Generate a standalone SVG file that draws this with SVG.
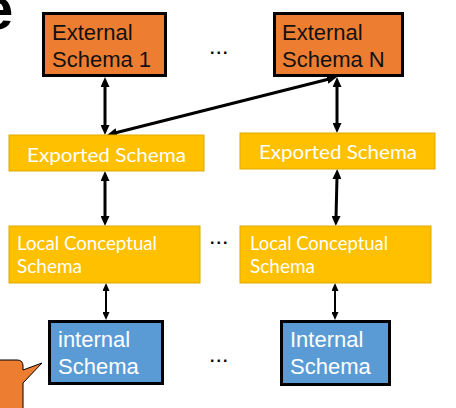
<svg xmlns="http://www.w3.org/2000/svg" width="456" height="408" viewBox="0 0 456 408">
  <style>
    .ext { fill: #ED7D31; stroke: #000; stroke-width: 3; }
    .int { fill: #5B9BD5; stroke: #000; stroke-width: 3; }
    .yel { fill: #FFC000; stroke: #E0A900; stroke-width: 1; }
    .t22 { font-family: "Liberation Sans", Arial, sans-serif; font-size: 22px; }
    .dark { fill: #111; }
    .white { fill: #fff; }
    .cal { font-family: Lato, "Open Sans", sans-serif; font-size: 18.5px; fill: #fff; }
    .dots { font-family: "Liberation Sans", Arial, sans-serif; font-size: 16px; font-weight: bold; fill: #000; letter-spacing: 2px; }
    .conn { stroke: #000; fill: none; }
  </style>
  <defs>
    <marker id="ah" markerUnits="userSpaceOnUse" markerWidth="10" markerHeight="9" refX="2" refY="4.5" orient="auto-start-reverse" viewBox="0 0 10 9">
      <path d="M0,0 L10,4.5 L0,9 z" fill="#000"/>
    </marker>
    <marker id="ahs" markerUnits="userSpaceOnUse" markerWidth="8" markerHeight="7" refX="2" refY="3.5" orient="auto-start-reverse" viewBox="0 0 8 7">
      <path d="M0,0 L8,3.5 L0,7 z" fill="#000"/>
    </marker>
  </defs>

  <text x="-20" y="29" font-family="Liberation Sans, Arial, sans-serif" font-size="60" font-weight="bold" fill="#000">e</text>

  <g id="bubble">
    <path d="M-5,360 L17,360 Q23,360 23,366 L23,370 L42,363 L23,383 L23,412 L-5,412 Z" fill="#ED7D31" stroke="#000" stroke-width="1"/>
  </g>

  <g id="connectors">
    <line class="conn" x1="105" y1="85" x2="105" y2="127" stroke-width="3" marker-start="url(#ah)" marker-end="url(#ah)"/>
    <line class="conn" x1="337" y1="85" x2="337" y2="125" stroke-width="3" marker-start="url(#ah)" marker-end="url(#ah)"/>
    <line class="conn" x1="329.2" y1="79" x2="114.8" y2="133" stroke-width="3" marker-start="url(#ah)" marker-end="url(#ah)"/>
    <line class="conn" x1="105" y1="179" x2="105" y2="218" stroke-width="3" marker-start="url(#ah)" marker-end="url(#ah)"/>
    <line class="conn" x1="337" y1="177" x2="336" y2="218" stroke-width="3" marker-start="url(#ah)" marker-end="url(#ah)"/>
    <line class="conn" x1="106" y1="289" x2="106" y2="314" stroke-width="2" marker-start="url(#ahs)" marker-end="url(#ahs)"/>
    <line class="conn" x1="335" y1="289" x2="335" y2="314" stroke-width="2" marker-start="url(#ahs)" marker-end="url(#ahs)"/>
  </g>

  <g id="ext1">
    <rect class="ext" x="43.5" y="13.5" width="122" height="62"/>
    <text class="t22 dark" x="52" y="40">External</text>
    <text class="t22 dark" x="52" y="67">Schema 1</text>
  </g>
  <g id="extN">
    <rect class="ext" x="274.5" y="13.5" width="128" height="62"/>
    <text class="t22 dark" x="282" y="40">External</text>
    <text class="t22 dark" x="282" y="67">Schema N</text>
  </g>

  <g id="exp1">
    <rect class="yel" x="9" y="135" width="195" height="36"/>
    <text class="cal" x="106.5" y="162" text-anchor="middle" textLength="159" lengthAdjust="spacingAndGlyphs">Exported Schema</text>
  </g>
  <g id="exp2">
    <rect class="yel" x="240" y="133" width="195" height="36"/>
    <text class="cal" x="338" y="159" text-anchor="middle" textLength="158" lengthAdjust="spacingAndGlyphs">Exported Schema</text>
  </g>

  <g id="lcs1">
    <rect class="yel" x="9" y="226" width="191" height="57"/>
    <text class="cal" x="17" y="250" textLength="140" lengthAdjust="spacingAndGlyphs">Local Conceptual</text>
    <text class="cal" x="17" y="273" textLength="65" lengthAdjust="spacingAndGlyphs">Schema</text>
  </g>
  <g id="lcs2">
    <rect class="yel" x="240" y="226" width="191" height="57"/>
    <text class="cal" x="250" y="250" textLength="138" lengthAdjust="spacingAndGlyphs">Local Conceptual</text>
    <text class="cal" x="250" y="273" textLength="65" lengthAdjust="spacingAndGlyphs">Schema</text>
  </g>

  <g id="int1">
    <rect class="int" x="49.5" y="321.5" width="113" height="62"/>
    <text class="t22 white" x="58" y="347">internal</text>
    <text class="t22 white" x="58" y="374">Schema</text>
  </g>
  <g id="intN">
    <rect class="int" x="281.5" y="321.5" width="108" height="63"/>
    <text class="t22 white" x="290" y="347">Internal</text>
    <text class="t22 white" x="290" y="374">Schema</text>
  </g>

  <g id="dots">
    <text class="dots" x="210" y="54">...</text>
    <text class="dots" x="210" y="244">...</text>
    <text class="dots" x="210" y="362">...</text>
  </g>
</svg>
